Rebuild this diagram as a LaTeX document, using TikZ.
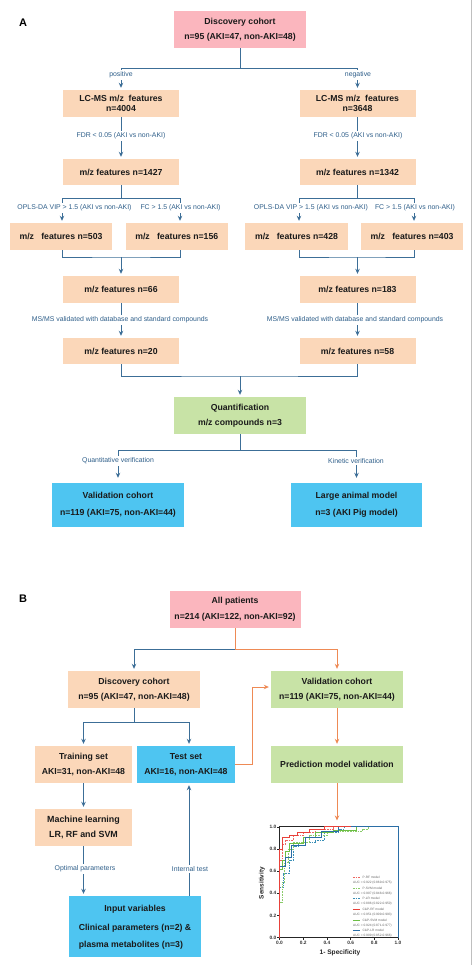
\documentclass[tikz,border=0pt]{standalone}
\usepackage{fontspec}
\setmainfont{Liberation Sans}
\usetikzlibrary{arrows.meta}
\definecolor{pinkc}{HTML}{FBB6BE}
\definecolor{peachc}{HTML}{FBD7B9}
\definecolor{greenc}{HTML}{C8E3A6}
\definecolor{bluec}{HTML}{4EC5F1}
\definecolor{linec}{HTML}{3C6E97}
\definecolor{orangec}{HTML}{EE8A55}
\definecolor{labelc}{HTML}{2F5F8A}
\definecolor{txtc}{HTML}{1A1A1A}
\definecolor{rocred}{HTML}{E8413A}
\definecolor{rocgreen}{HTML}{6DBE45}
\definecolor{rocblue}{HTML}{2B6EA6}
\definecolor{rocteal}{HTML}{3A8FB7}
\begin{document}
\begin{tikzpicture}[x=1pt,y=-1pt,
 box/.style={inner sep=0pt, align=center, text=txtc, font=\fontsize{8.7}{15}\selectfont\bfseries},
 pinkbox/.style={box, fill=pinkc},
 peachbox/.style={box, fill=peachc},
 greenbox/.style={box, fill=greenc},
 bluebox/.style={box, fill=bluec},
 wideA/.style={minimum width=116pt, minimum height=27pt},
 halfA/.style={minimum width=102.5pt, minimum height=27pt},
 bigbox/.style={minimum width=132pt, minimum height=37pt},
 smallB/.style={minimum width=97.5pt, minimum height=37pt},
 conn/.style={draw=linec, line width=0.8pt},
 arr/.style={conn, -{Stealth[length=5pt,width=4.5pt]}, shorten >=2pt},
 oconn/.style={draw=orangec, line width=0.8pt},
 oarr/.style={oconn, -{Stealth[length=5pt,width=4.5pt]}, shorten >=2pt},
 lbl/.style={fill=white, inner xsep=1pt, inner ysep=1.5pt, text=labelc, font=\fontsize{6.9}{8}\selectfont},
 panel/.style={font=\fontsize{11}{13}\selectfont\bfseries},
 tick/.style={font=\fontsize{4.8}{5}\selectfont\bfseries, text=black!80, inner sep=0.6pt},
 leg/.style={font=\fontsize{3.2}{3.5}\selectfont, text=black!60, inner sep=0pt, anchor=west},
 rocdash/.style={dash pattern=on 1.6pt off 1pt},
]
\useasboundingbox (0,0) rectangle (474,968);
\draw[black!25, line width=0.6pt] (471.5,0) -- (471.5,965);

% ---------------- Panel A ----------------
\node[panel] (pA) at (23,23) {A};
\node[pinkbox, bigbox] (dA) at (240,29.5) {Discovery cohort\\n=95 (AKI=47, non-AKI=48)};
\node[peachbox, wideA, font=\fontsize{8.7}{10.3}\selectfont\bfseries] (lcL) at (121,103.5) {LC-MS m/z\ \ features\\n=4004};
\node[peachbox, wideA, font=\fontsize{8.7}{10.3}\selectfont\bfseries] (lcR) at (357.5,103.5) {LC-MS m/z\ \ features\\n=3648};
\node[peachbox, wideA, minimum height=26pt] (f1427) at (121,172) {m/z features n=1427};
\node[peachbox, wideA, minimum height=26pt] (f1342) at (357.5,172) {m/z features n=1342};
\node[peachbox, halfA] (f503) at (61,236.5) {m/z\ \ \ features n=503};
\node[peachbox, halfA] (f156) at (176.8,236.5) {m/z\ \ \ features n=156};
\node[peachbox, halfA] (f428) at (296.5,236.5) {m/z\ \ \ features n=428};
\node[peachbox, halfA] (f403) at (412,236.5) {m/z\ \ \ features n=403};
\node[peachbox, wideA] (f66) at (121,289.5) {m/z features n=66};
\node[peachbox, wideA] (f183) at (357.5,289.5) {m/z features n=183};
\node[peachbox, wideA, minimum height=26pt] (f20) at (121,351) {m/z features n=20};
\node[peachbox, wideA, minimum height=26pt] (f58) at (357.5,351) {m/z features n=58};
\node[greenbox, bigbox] (quant) at (240,415.5) {Quantification\\m/z compounds n=3};
\node[bluebox, minimum width=132pt, minimum height=44pt, font=\fontsize{8.7}{17}\selectfont\bfseries] (valA) at (118,505) {Validation cohort\\n=119 (AKI=75, non-AKI=44)};
\node[bluebox, minimum width=131pt, minimum height=44pt, font=\fontsize{8.7}{17}\selectfont\bfseries] (pig) at (356.5,505) {Large animal model\\n=3 (AKI Pig model)};

% connectors A
\coordinate (s1) at (240,68);
\draw[conn] (dA.south) -- (s1);
\draw[arr] (s1) -| (lcL.north);
\draw[arr] (s1) -| (lcR.north);
\node[lbl] (lpos) at (121,75) {positive};
\node[lbl] (lneg) at (358,75) {negative};

\draw[arr] (lcL.south) -- (f1427.north);
\draw[arr] (lcR.south) -- (f1342.north);
\node[lbl] (lfdr1) at (121,136) {FDR < 0.05 (AKI vs non-AKI)};
\node[lbl] (lfdr2) at (358,136) {FDR < 0.05 (AKI vs non-AKI)};

\coordinate (s2) at (121,198);
\draw[conn] (f1427.south) -- (s2);
\draw[arr] (s2) -| ([xshift=1pt]f503.north);
\draw[arr] (s2) -| ([xshift=3.2pt]f156.north);
\coordinate (s2r) at (357.5,198);
\draw[conn] (f1342.south) -- (s2r);
\draw[arr] (s2r) -| ([xshift=2.5pt]f428.north);
\draw[arr] (s2r) -| ([xshift=2pt]f403.north);
\node[lbl] (lop1) at (74.5,208) {OPLS-DA VIP > 1.5 (AKI vs non-AKI)};
\node[lbl] (lfc1) at (180.5,208) {FC > 1.5 (AKI vs non-AKI)};
\node[lbl] (lop2) at (311,208) {OPLS-DA VIP > 1.5 (AKI vs non-AKI)};
\node[lbl] (lfc2) at (415,208) {FC > 1.5 (AKI vs non-AKI)};

\coordinate (s3) at (121,257);
\draw[conn] ([xshift=1pt]f503.south) |- (s3) -| ([xshift=3.2pt]f156.south);
\draw[arr] (s3) -- (f66.north);
\coordinate (s3r) at (357.5,257);
\draw[conn] ([xshift=2.5pt]f428.south) |- (s3r) -| ([xshift=2pt]f403.south);
\draw[arr] (s3r) -- (f183.north);

\draw[arr] (f66.south) -- (f20.north);
\draw[arr] (f183.south) -- (f58.north);
\node[lbl] (lms1) at (120,320) {MS/MS validated with database and standard compounds};
\node[lbl] (lms2) at (355,320) {MS/MS validated with database and standard compounds};

\coordinate (s4) at (240,376);
\draw[conn] (f20.south) |- (s4) -| (f58.south);
\draw[arr] (s4) -- (quant.north);

\coordinate (s5) at (240,450);
\draw[conn] (quant.south) -- (s5);
\draw[arr, shorten >=5pt] (s5) -| (valA.north);
\draw[arr, shorten >=5pt] (s5) -| (pig.north);
\node[lbl] (lqv) at (118,461) {Quantitative verification};
\node[lbl] (lkv) at (356,461) {Kinetic verification};

% ---------------- Panel B ----------------
\node[panel] (pB) at (23,599) {B};
\node[pinkbox, minimum width=131pt, minimum height=37pt, font=\fontsize{8.7}{16}\selectfont\bfseries] (allp) at (235,609.5) {All patients\\n=214 (AKI=122, non-AKI=92)};
\node[peachbox, bigbox] (discB) at (134,689.5) {Discovery cohort\\n=95 (AKI=47, non-AKI=48)};
\node[greenbox, bigbox] (valB) at (337,689.5) {Validation cohort\\n=119 (AKI=75, non-AKI=44)};
\node[peachbox, smallB] (train) at (83.5,764.5) {Training set\\AKI=31, non-AKI=48};
\node[bluebox, smallB] (test) at (186,764.5) {Test set\\AKI=16, non-AKI=48};
\node[greenbox, bigbox] (pred) at (337,764.5) {Prediction model validation};
\node[peachbox, smallB, font=\fontsize{8.9}{15}\selectfont\bfseries] (ml) at (83.5,827.5) {Machine learning\\LR, RF and SVM};
\node[bluebox, minimum width=132pt, minimum height=61pt] (inp) at (135,926.5) {\begin{tabular}{@{}l@{}}\multicolumn{1}{@{}c@{}}{Input variables}\\[4pt] Clinical parameters (n=2) \&\\[2pt] plasma metabolites (n=3)\end{tabular}};

\coordinate (s6) at (235,649);
\draw[arr] (s6) -| (discB.north);
\draw[oarr] (s6) -| (valB.north);
\draw[oconn] (allp.south) -- (s6);

\coordinate (s7) at (134,722);
\draw[conn] (discB.south) -- (s7);
\draw[arr] (s7) -| (train.north);
\draw[arr] (s7) -| ([xshift=3pt]test.north);

\coordinate (c1) at (252,764.5);
\draw[oarr] (test.east) -- (c1) |- ([yshift=2.5pt]valB.west);
\draw[oarr] (valB.south) -- (pred.north);

\draw[arr] (train.south) -- (ml.north);
\draw[arr] (ml.south) -- (ml.south |- inp.north);
\draw[arr] ([xshift=3pt]test.south |- inp.north) -- ([xshift=3pt]test.south);
\node[lbl] (lopt) at (85,869) {Optimal parameters};
\node[lbl] (lint) at (190,869) {Internal test};

% ROC plot
\node[draw=black!85, line width=0.5pt, minimum width=118.5pt, minimum height=110.8pt, inner sep=0pt] (plot) at (338.75,882.1) {};
\draw[oarr, shorten >=6pt] (pred.south) -- (pred.south |- plot.north);

\begin{scope}[shift={(279.5,937.5)}, x=118.5pt, y=110.8pt]
 \foreach \v/\t in {0/0.0,0.2/0.2,0.4/0.4,0.6/0.6,0.8/0.8,1/1.0}{
   \draw[black!85, line width=0.4pt] (0,\v) -- (-0.02,\v);
   \node[tick, anchor=east] at (-0.02,\v) {\t};
   \draw[black!85, line width=0.4pt] (\v,0) -- (\v,-0.02);
   \node[tick, anchor=north] at (\v,-0.025) {\t};
 }
 % curves
 \draw[rocteal, line width=0.55pt, rocdash] (0,0) -- (0,0.45) -- (0.03,0.45) -- (0.03,0.58) -- (0.08,0.58) -- (0.08,0.70) -- (0.12,0.70) -- (0.12,0.82) -- (0.16,0.82) -- (0.16,0.86) -- (0.30,0.86) -- (0.30,0.88) -- (0.38,0.88) -- (0.38,0.95) -- (0.5,0.95) -- (0.5,0.98) -- (0.55,0.98) -- (0.55,1) -- (1,1);
 \draw[rocgreen!80, line width=0.55pt, rocdash] (0,0) -- (0,0.32) -- (0.02,0.32) -- (0.02,0.5) -- (0.04,0.5) -- (0.04,0.68) -- (0.07,0.68) -- (0.07,0.8) -- (0.12,0.8) -- (0.12,0.86) -- (0.25,0.86) -- (0.25,0.92) -- (0.4,0.92) -- (0.4,0.96) -- (0.7,0.96) -- (0.7,0.98) -- (0.75,0.98) -- (0.75,1) -- (1,1);
 \draw[rocred!80, line width=0.55pt, rocdash] (0,0) -- (0,0.70) -- (0.02,0.70) -- (0.02,0.84) -- (0.05,0.84) -- (0.05,0.88) -- (0.12,0.88) -- (0.12,0.92) -- (0.2,0.92) -- (0.2,0.95) -- (0.3,0.95) -- (0.3,0.98) -- (0.45,0.98) -- (0.45,1) -- (1,1);
 \draw[rocgreen, line width=0.6pt] (0,0) -- (0,0.62) -- (0.02,0.62) -- (0.02,0.70) -- (0.05,0.70) -- (0.05,0.78) -- (0.08,0.78) -- (0.08,0.85) -- (0.2,0.85) -- (0.2,0.9) -- (0.3,0.9) -- (0.3,0.95) -- (0.45,0.95) -- (0.45,0.97) -- (0.65,0.97) -- (0.65,1) -- (1,1);
 \draw[rocblue, line width=0.7pt] (0,0) -- (0,0.64) -- (0.05,0.64) -- (0.05,0.72) -- (0.1,0.72) -- (0.1,0.83) -- (0.22,0.83) -- (0.22,0.9) -- (0.35,0.9) -- (0.35,0.96) -- (0.5,0.96) -- (0.5,1) -- (1,1);
 \draw[rocred, line width=0.6pt] (0,0) -- (0,0.80) -- (0.02,0.80) -- (0.02,0.90) -- (0.08,0.90) -- (0.08,0.92) -- (0.15,0.92) -- (0.15,0.95) -- (0.25,0.95) -- (0.25,0.98) -- (0.38,0.98) -- (0.38,1) -- (0.6,1);
 \draw[rocblue, line width=0.7pt] (0.6,1) -- (1,1) -- (1,0);
 % legend
 \draw[rocred!80, line width=0.5pt, rocdash] (0.62,0.543) -- (0.68,0.543);
 \node[leg] at (0.70,0.543) {P-RF model};
 \node[leg] at (0.62,0.495) {AUC = 0.922 (0.869-0.975)};
 \draw[rocgreen!80, line width=0.5pt, rocdash] (0.62,0.447) -- (0.68,0.447);
 \node[leg] at (0.70,0.447) {P-SVM model};
 \node[leg] at (0.62,0.399) {AUC = 0.907 (0.848-0.966)};
 \draw[rocteal, line width=0.5pt, rocdash] (0.62,0.351) -- (0.68,0.351);
 \node[leg] at (0.70,0.351) {P-LR model};
 \node[leg] at (0.62,0.303) {AUC = 0.886 (0.822-0.950)};
 \draw[rocred, line width=0.6pt] (0.62,0.255) -- (0.68,0.255);
 \node[leg] at (0.70,0.255) {C\&P-RF model};
 \node[leg] at (0.62,0.207) {AUC = 0.951 (0.909-0.993)};
 \draw[rocgreen, line width=0.6pt] (0.62,0.159) -- (0.68,0.159);
 \node[leg] at (0.70,0.159) {C\&P-SVM model};
 \node[leg] at (0.62,0.111) {AUC = 0.924 (0.871-0.977)};
 \draw[rocblue, line width=0.7pt] (0.62,0.063) -- (0.68,0.063);
 \node[leg] at (0.70,0.063) {C\&P-LR model};
 \node[leg] at (0.62,0.016) {AUC = 0.909 (0.852-0.966)};
\end{scope}
\node[rotate=90, font=\fontsize{6.4}{7}\selectfont\bfseries, text=black!85] (ylab) at (262,883) {Sensitivity};
\node[font=\fontsize{6.6}{7}\selectfont\bfseries, text=black!85] (xlab) at (340,953) {1- Specificity};
\end{tikzpicture}
\end{document}
